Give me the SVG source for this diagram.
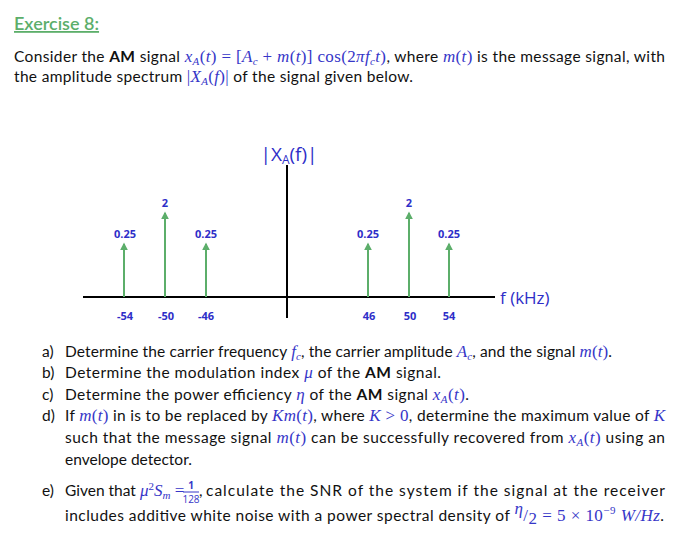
<svg xmlns="http://www.w3.org/2000/svg" width="700" height="554" viewBox="0 0 700 554">
<style>
.t{font-family:Lato,"Open Sans","Liberation Sans",sans-serif;font-size:15.5px;fill:#111}
.m{font-family:"Liberation Serif",serif;font-style:italic;fill:#3636c8;font-size:17px}
.r{font-family:"Liberation Serif",serif;font-style:normal;fill:#3636c8}
.b{font-weight:bold}
.lb{font-family:"Open Sans","Liberation Sans",sans-serif;font-size:11px;font-weight:bold;fill:#2e2ec8;text-anchor:middle}
.imp{stroke:#5cae6a;stroke-width:2;marker-end:url(#ah)}
</style>
<defs><marker id="ah" viewBox="0 0 10 10" refX="8" refY="5" markerWidth="4" markerHeight="4" orient="auto"><path d="M0,0L10,5L0,10z" fill="#5cae6a"/></marker></defs>
<rect width="700" height="554" fill="#fff"/>
<text x="14" y="30" font-family="Lato,'Open Sans',sans-serif" font-size="18" font-weight="600" fill="#5cae6a" text-decoration="underline">Exercise 8:</text>
<text class="t" x="14" y="62" textLength="651" lengthAdjust="spacing">Consider the <tspan class="b">AM</tspan> signal <tspan class="m">x<tspan font-size="11" dy="3">A</tspan><tspan class="r" dy="-3">(</tspan>t<tspan class="r">) = [</tspan>A<tspan font-size="11" dy="3">c</tspan><tspan class="r" dy="-3"> + </tspan>m<tspan class="r">(</tspan>t<tspan class="r">)] cos(2</tspan>πf<tspan font-size="11" dy="3">c</tspan><tspan dy="-3">t</tspan><tspan class="r">)</tspan></tspan>, where <tspan class="m">m<tspan class="r">(</tspan>t<tspan class="r">)</tspan></tspan> is the message signal, with</text>
<text class="t" x="14" y="82" textLength="399" lengthAdjust="spacing">the amplitude spectrum <tspan class="m"><tspan class="r">|</tspan>X<tspan font-size="11" dy="3">A</tspan><tspan class="r" dy="-3">(</tspan>f<tspan class="r">)|</tspan></tspan>  of the signal given below.</text>
<g id="axes" stroke="#000" stroke-width="2">
<line x1="83" y1="297" x2="495" y2="297"/>
<line x1="287" y1="165" x2="287" y2="318"/>
</g>
<g id="title"><text x="289" y="161" font-family="'Open Sans','Liberation Sans',sans-serif" font-size="19" fill="#2e2ec8" text-anchor="middle">|X<tspan font-size="12" dy="3">A</tspan><tspan dy="-3">(f)|</tspan></text>
<text x="500" y="304" font-family="'Open Sans','Liberation Sans',sans-serif" font-size="17" fill="#2e2ec8">f (kHz)</text></g>
<g id="impulses">
<line class="imp" x1="124" y1="297" x2="124" y2="244"/>
<line class="imp" x1="165" y1="297" x2="165" y2="213"/>
<line class="imp" x1="206" y1="297" x2="206" y2="244"/>
<line class="imp" x1="368" y1="297" x2="368" y2="244"/>
<line class="imp" x1="409" y1="297" x2="409" y2="213"/>
<line class="imp" x1="449" y1="297" x2="449" y2="244"/>
</g>
<g id="labels">
<text class="lb" x="125" y="238">0.25</text><text class="lb" x="165" y="207">2</text><text class="lb" x="206" y="238">0.25</text>
<text class="lb" x="368" y="238">0.25</text><text class="lb" x="409" y="207">2</text><text class="lb" x="449" y="238">0.25</text>
<text class="lb" x="125" y="320">-54</text><text class="lb" x="166" y="320">-50</text><text class="lb" x="206" y="320">-46</text>
<text class="lb" x="369" y="320">46</text><text class="lb" x="410" y="320">50</text><text class="lb" x="449" y="320">54</text>
</g>
<g id="questions">
<text class="t" x="42" y="357">a)</text>
<text class="t" x="65" y="357" textLength="547" lengthAdjust="spacing">Determine the carrier frequency <tspan class="m">f<tspan font-size="11" dy="3">c</tspan></tspan><tspan dy="-3">, the carrier amplitude </tspan><tspan class="m">A<tspan font-size="11" dy="3">c</tspan></tspan><tspan dy="-3">, and the signal </tspan><tspan class="m">m<tspan class="r">(</tspan>t<tspan class="r">)</tspan></tspan>.</text>
<text class="t" x="42" y="378">b)</text>
<text class="t" x="65" y="378" textLength="376" lengthAdjust="spacing">Determine the modulation index <tspan class="m">μ</tspan> of the <tspan class="b">AM</tspan> signal.</text>
<text class="t" x="42" y="400">c)</text>
<text class="t" x="65" y="400" textLength="404" lengthAdjust="spacing">Determine the power efficiency <tspan class="m">η</tspan> of the <tspan class="b">AM</tspan> signal <tspan class="m">x<tspan font-size="11" dy="3">A</tspan><tspan class="r" dy="-3">(</tspan>t<tspan class="r">)</tspan></tspan>.</text>
<text class="t" x="42" y="421">d)</text>
<text class="t" x="65" y="421" textLength="600" lengthAdjust="spacing">If <tspan class="m">m<tspan class="r">(</tspan>t<tspan class="r">)</tspan></tspan> in is to be replaced by <tspan class="m">Km<tspan class="r">(</tspan>t<tspan class="r">)</tspan></tspan>, where <tspan class="m">K<tspan class="r"> &gt; 0</tspan></tspan>, determine the maximum value of <tspan class="m">K</tspan></text>
<text class="t" x="65" y="443" textLength="600" lengthAdjust="spacing">such that the message signal <tspan class="m">m<tspan class="r">(</tspan>t<tspan class="r">)</tspan></tspan> can be successfully recovered from <tspan class="m">x<tspan font-size="11" dy="3">A</tspan><tspan class="r" dy="-3">(</tspan>t<tspan class="r">)</tspan></tspan> using an</text>
<text class="t" x="65" y="465">envelope detector.</text>
<text class="t" x="42" y="496">e)</text>
<text class="t" x="65" y="496">Given that <tspan class="m">μ<tspan class="r" font-size="11" dy="-6">2</tspan><tspan dy="6">S</tspan><tspan font-size="11" dy="3">m</tspan><tspan class="r" dy="-3"> =</tspan></tspan></text>
<text x="191" y="489" font-family="'Open Sans',sans-serif" font-size="10" font-weight="bold" fill="#3636c8" text-anchor="middle">1</text>
<line x1="183" y1="492" x2="199" y2="492" stroke="#3636c8" stroke-width="1"/>
<text x="191" y="503" font-family="'Open Sans',sans-serif" font-size="10" fill="#3636c8" text-anchor="middle">128</text>
<text class="t" x="199" y="496">,</text>
<text class="t" x="206" y="496" textLength="459" lengthAdjust="spacing">calculate the SNR of the system if the signal at the receiver</text>
<text class="t" x="65" y="521" textLength="599" lengthAdjust="spacing">includes additive white noise with a power spectral density of <tspan class="m" font-size="14" dy="-7">η</tspan><tspan class="r" font-size="17" dy="7">/</tspan><tspan class="r" font-size="17" dy="3">2</tspan><tspan class="r" font-size="17" dy="-3"> = 5 × 10</tspan><tspan class="r" font-size="11" dy="-7">−9</tspan><tspan class="m" dy="7"> W/Hz</tspan>.</text>
</g>
</svg>
